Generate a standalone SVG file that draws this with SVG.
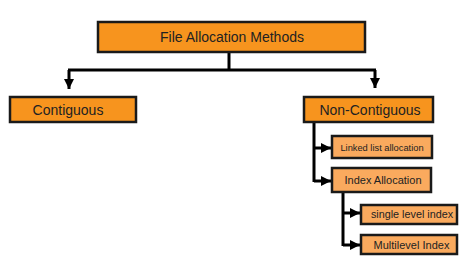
<svg xmlns="http://www.w3.org/2000/svg" width="474" height="269" viewBox="0 0 474 269">
<defs>
<marker id="ah" markerUnits="userSpaceOnUse" markerWidth="10" markerHeight="10" viewBox="0 0 10 10" refX="10" refY="5" orient="auto">
<path d="M0,0 L10,5 L0,10 z" fill="#000"/>
</marker>
<style>
.main{fill:#F7941E;stroke:#1a1a1a;stroke-width:2.5}
.sub{fill:#FAAA5E;stroke:#1a1a1a;stroke-width:2.5}
text{font-family:"Liberation Sans",Arial,sans-serif;fill:#222;text-anchor:middle}
.c{fill:none;stroke:#000;stroke-width:3}
</style>
</defs>
<rect width="474" height="269" fill="#fff"/>
<g id="connectors">
<polyline class="c" points="229,52 229,70"/>
<polyline class="c" points="68,70 376,70"/>
<line class="c" x1="69" y1="70" x2="69" y2="89" marker-end="url(#ah)"/>
<line class="c" x1="375" y1="70" x2="375" y2="88" marker-end="url(#ah)"/>
<polyline class="c" points="314,122 314,182"/>
<line class="c" x1="314" y1="148" x2="331" y2="148" marker-end="url(#ah)"/>
<line class="c" x1="314" y1="181" x2="331" y2="181" marker-end="url(#ah)"/>
<polyline class="c" points="343,192 343,246"/>
<line class="c" x1="343" y1="213" x2="360" y2="213" marker-end="url(#ah)"/>
<line class="c" x1="343" y1="245" x2="360" y2="245" marker-end="url(#ah)"/>
</g>
<g id="file-allocation-methods">
<rect class="main" x="98" y="22" width="267" height="30"/>
<text x="232" y="41.5" font-size="14">File Allocation Methods</text>
</g>
<g id="contiguous">
<rect class="main" x="10" y="97" width="126" height="25"/>
<text x="68" y="114.5" font-size="14">Contiguous</text>
</g>
<g id="non-contiguous">
<rect class="main" x="304" y="97" width="129" height="25"/>
<text x="370" y="114.5" font-size="14">Non-Contiguous</text>
</g>
<g id="linked-list-allocation">
<rect class="sub" x="332" y="136" width="100" height="22"/>
<text x="382" y="151" font-size="9.3">Linked list allocation</text>
</g>
<g id="index-allocation">
<rect class="sub" x="332" y="168" width="99" height="24"/>
<text x="383" y="184" font-size="11">Index Allocation</text>
</g>
<g id="single-level-index">
<rect class="sub" x="361" y="205" width="96" height="19"/>
<text x="412" y="218" font-size="10.8">single level index</text>
</g>
<g id="multilevel-index">
<rect class="sub" x="361" y="235" width="96" height="19"/>
<text x="411.5" y="248.5" font-size="11">Multilevel Index</text>
</g>
</svg>
